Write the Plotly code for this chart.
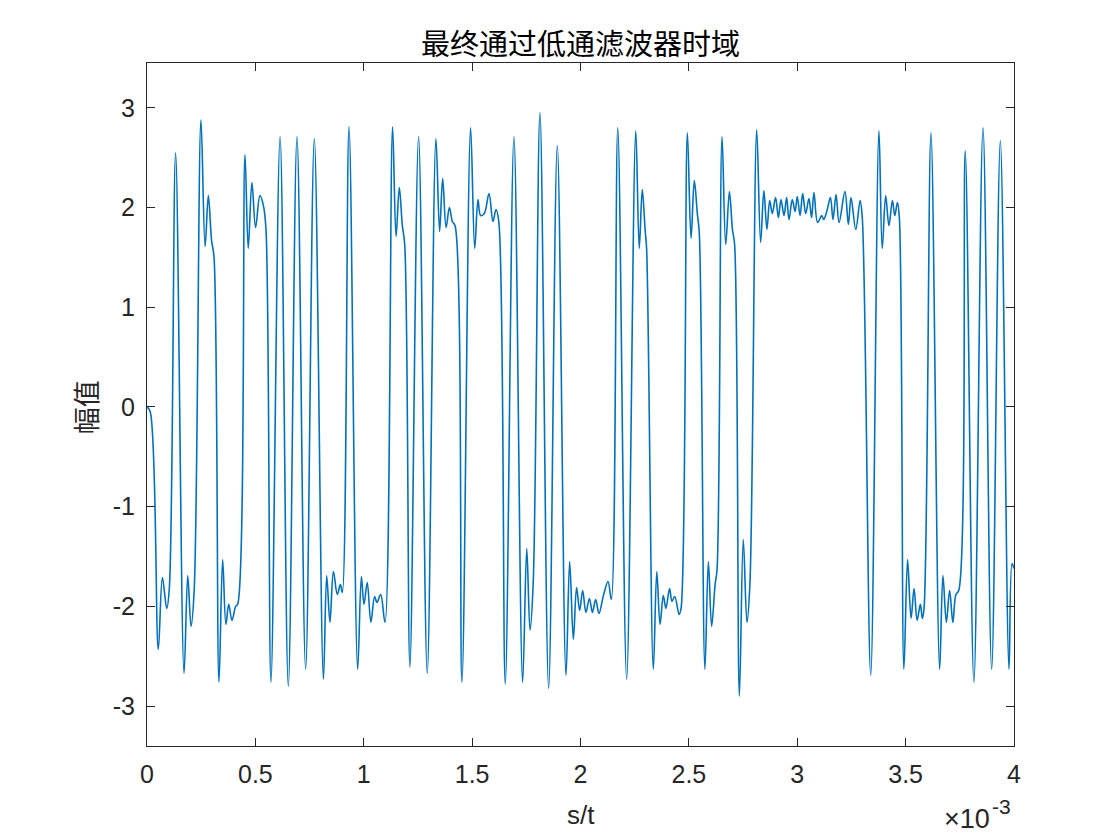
import plotly.graph_objects as go

# time in milliseconds (axis shows seconds with x10^-3 multiplier)
t_ms = [
    0.000, 0.015, 0.052, 0.071, 0.091, 0.103, 0.132, 0.171, 0.188, 0.203, 0.218,
    0.249, 0.268, 0.283, 0.298, 0.309, 0.332, 0.349, 0.364, 0.377, 0.392, 0.409,
    0.418, 0.452, 0.467, 0.484, 0.501, 0.521, 0.537, 0.549, 0.572, 0.614, 0.652,
    0.692, 0.732, 0.772, 0.814, 0.829, 0.844, 0.860, 0.878, 0.892, 0.901, 0.932,
    0.972, 0.989, 1.001, 1.016, 1.033, 1.050, 1.061, 1.078, 1.098, 1.133, 1.149,
    1.164, 1.178, 1.189, 1.213, 1.253, 1.293, 1.333, 1.350, 1.364, 1.380, 1.395,
    1.409, 1.421, 1.453, 1.493, 1.512, 1.527, 1.539, 1.556, 1.578, 1.596, 1.610,
    1.623, 1.653, 1.693, 1.733, 1.752, 1.767, 1.782, 1.813, 1.853, 1.893, 1.933,
    1.950, 1.967, 1.982, 1.996, 2.010, 2.025, 2.041, 2.055, 2.070, 2.085, 2.107,
    2.127, 2.142, 2.172, 2.213, 2.255, 2.271, 2.285, 2.298, 2.305, 2.336, 2.352,
    2.367, 2.382, 2.394, 2.411, 2.422, 2.435, 2.455, 2.464, 2.493, 2.510, 2.525,
    2.539, 2.548, 2.574, 2.590, 2.605, 2.621, 2.630, 2.653, 2.670, 2.687, 2.701,
    2.711, 2.733, 2.751, 2.768, 2.782, 2.813, 2.831, 2.846, 2.860, 2.873, 2.885,
    2.900, 2.913, 2.925, 2.939, 2.951, 2.962, 2.977, 2.990, 3.000, 3.013, 3.025,
    3.039, 3.054, 3.066, 3.077, 3.094, 3.113, 3.122, 3.136, 3.153, 3.165, 3.179,
    3.193, 3.220, 3.236, 3.248, 3.270, 3.290, 3.300, 3.339, 3.377, 3.392, 3.408,
    3.423, 3.439, 3.450, 3.462, 3.471, 3.492, 3.509, 3.525, 3.539, 3.553, 3.568,
    3.577, 3.585, 3.617, 3.657, 3.672, 3.688, 3.703, 3.718, 3.732, 3.745, 3.775,
    3.815, 3.857, 3.897, 3.937, 3.977, 3.991, 4.000,
]

amplitude = [
    0.00, -0.05, -2.43, -1.71, -2.02, -1.82, 2.55, -2.67, -1.69, -2.20, -1.82,
    2.88, 1.61, 2.12, 1.67, 1.51, -2.76, -1.53, -2.18, -1.98, -2.14, -2.00,
    -1.98, 2.53, 1.59, 2.25, 1.80, 2.12, 2.02, 1.78, -2.76, 2.71, -2.80,
    2.71, -2.63, 2.69, -2.73, -1.69, -2.16, -1.65, -1.88, -1.78, -1.86, 2.81,
    -2.63, -1.70, -1.98, -1.76, -2.16, -1.90, -1.96, -1.88, -2.16, 2.81, 1.71,
    2.20, 1.82, 1.63, -2.61, 2.71, -2.67, 2.69, 1.76, 2.29, 1.80, 2.00,
    1.86, 1.82, -2.76, 2.80, 1.59, 2.08, 1.92, 1.94, 2.14, 1.86, 1.98,
    1.86, -2.78, 2.71, -2.76, -1.42, -2.24, -1.75, 2.95, -2.82, 2.62, -2.69,
    -1.55, -2.33, -1.81, -2.04, -1.84, -2.06, -1.92, -2.06, -1.93, -2.07, -1.88,
    -1.75, -1.93, 2.80, -2.73, 2.77, 1.59, 2.18, 1.78, 1.59, -2.63, -1.65,
    -2.18, -1.89, -2.02, -1.82, -1.95, -1.90, -2.08, -2.02, 2.75, 1.69, 2.27,
    1.94, 1.75, -2.63, -1.55, -2.20, -1.78, -1.63, 2.71, 1.63, 2.16, 1.78,
    1.63, -2.90, -1.33, -2.16, -1.75, 2.78, 1.65, 2.17, 1.78, 2.07, 1.94,
    2.10, 1.90, 2.08, 1.92, 2.10, 1.88, 2.08, 1.96, 2.11, 1.92, 2.14,
    1.94, 2.09, 1.90, 2.15, 1.85, 1.92, 1.88, 1.96, 2.10, 1.88, 2.13,
    1.85, 2.16, 1.83, 2.10, 1.78, 2.07, 1.90, -2.69, 2.77, 1.59, 2.12,
    1.82, 2.07, 1.92, 2.05, 1.90, -2.63, -1.53, -2.12, -1.82, -2.14, -1.98,
    -2.12, -2.02, 2.75, -2.63, -1.69, -2.16, -1.84, -2.16, -1.88, -1.84, 2.57,
    -2.76, 2.80, -2.63, 2.67, -2.63, -1.57, -1.62,
]

x_tick_vals_ms = [0, 0.5, 1, 1.5, 2, 2.5, 3, 3.5, 4]
x_tick_text = ["0", "0.5", "1", "1.5", "2", "2.5", "3", "3.5", "4"]
y_tick_vals = [-3, -2, -1, 0, 1, 2, 3]
y_tick_text = ["-3", "-2", "-1", "0", "1", "2", "3"]

title_text = "最终通过低通滤波器时域"
x_label = "s/t"
y_label = "幅值"
multiplier_base = "×10"
multiplier_exp = "-3"

t_sec = [v * 1e-3 for v in t_ms]

fig = go.Figure()
fig.add_trace(go.Scatter(
    x=t_sec, y=amplitude, mode="lines",
    line=dict(color="#0072BD", width=1.6, shape="spline", smoothing=1.0),
    showlegend=False, hoverinfo="skip",
))

axis_color = "#262626"
latin = "Liberation Sans, Arial, sans-serif"
tick_font = dict(family=latin, size=25, color=axis_color)
cjk = "Noto Sans CJK SC, sans-serif"

# page body has an 8px default margin, so the figure margins compensate for it
fig.update_layout(
    width=1120, height=840,
    margin=dict(l=139, r=114, t=55, b=102),
    paper_bgcolor="white", plot_bgcolor="white",
    showlegend=False,
    xaxis=dict(
        range=[0, 0.004],
        tickvals=[v * 1e-3 for v in x_tick_vals_ms], ticktext=x_tick_text,
        ticks="inside", ticklen=8, tickwidth=1, tickcolor=axis_color,
        showline=True, linecolor=axis_color, linewidth=1, mirror="ticks",
        showgrid=False, zeroline=False, tickfont=tick_font,
        ticklabelstandoff=6,
    ),
    yaxis=dict(
        range=[-3.40, 3.45],
        tickvals=y_tick_vals, ticktext=y_tick_text,
        ticks="inside", ticklen=8, tickwidth=1, tickcolor=axis_color,
        showline=True, linecolor=axis_color, linewidth=1, mirror="ticks",
        showgrid=False, zeroline=False, tickfont=tick_font,
        ticklabelstandoff=6,
    ),
    annotations=[
        dict(text=title_text, xref="paper", yref="paper", x=0.5, y=1.0307,
             xanchor="center", yanchor="middle", showarrow=False,
             font=dict(family=cjk, size=29, color="#000000")),
        dict(text=x_label, xref="paper", yref="paper", x=0.5, y=-0.101,
             xanchor="center", yanchor="middle", showarrow=False,
             font=dict(family=latin, size=26, color=axis_color)),
        dict(text=y_label, xref="paper", yref="paper", x=-0.0715, y=0.496,
             xanchor="center", yanchor="middle", showarrow=False, textangle=-90,
             font=dict(family=cjk, size=27, color=axis_color)),
        dict(text=multiplier_base, xref="paper", yref="paper", x=0.9745, y=-0.1065,
             xanchor="right", yanchor="middle", showarrow=False,
             font=dict(family=latin, size=27, color=axis_color)),
        dict(text=multiplier_exp, xref="paper", yref="paper", x=0.9725, y=-0.0880,
             xanchor="left", yanchor="middle", showarrow=False,
             font=dict(family=latin, size=21, color=axis_color)),
    ],
)

fig.write_html("out.html")
